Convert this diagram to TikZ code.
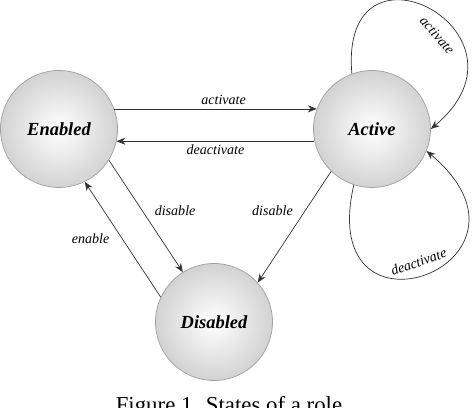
\documentclass[tikz,border=0pt]{standalone}
\usepackage{fontspec}
\setmainfont{Liberation Serif}
\usetikzlibrary{arrows.meta}

\begin{document}
\begin{tikzpicture}[x=0.02cm, y=0.02cm,
  state/.style={circle, draw=gray!75, shading=radial, inner color=white, outer color=gray!35,
    minimum size=2.34cm, inner sep=0pt, font=\fontsize{10.5}{12}\selectfont\bfseries\itshape},
  trans/.style={draw=black!80, line width=0.4pt, -{Stealth[length=5pt, width=4pt]}},
  lbl/.style={font=\fontsize{8}{9.6}\selectfont\itshape, inner sep=2pt}]
  \useasboundingbox (0,0) rectangle (474,408);
  \node[state] (enabled) at (59,279) {Enabled};
  \node[state] (active) at (372,279) {Active};
  \node[state] (disabled) at (214,86) {Disabled};
  \node[font=\fontsize{13}{15}\selectfont, anchor=base] (caption) at (229,-5) {Figure 1. States of a role};
  \draw[trans] (enabled.20) -- node[lbl, pos=0.54, above] {activate} (active.160);
  \draw[trans] (active.192) -- node[lbl, below] {deactivate} (enabled.-12);
  \draw[trans] (enabled.-32) -- node[lbl, pos=0.45, right=5pt] {disable} (disabled.122);
  \draw[trans] (disabled.155) -- node[lbl, pos=0.51, left=5pt] {enable} (enabled.-64);
  \draw[trans] (active.226) -- node[lbl, pos=0.35, left=5pt] {disable} (disabled.42);
  % self loops
  \draw[trans] (active.110) .. controls +(95:150) and +(40:150) .. node[lbl, pos=0.6, sloped, below=4pt] {activate} (active.0);
  \draw[trans] (active.252) .. controls +(257:175) and +(-40:175) .. node[lbl, pos=0.49, sloped, above=3pt] {deactivate} (active.-22);
\end{tikzpicture}
\end{document}
